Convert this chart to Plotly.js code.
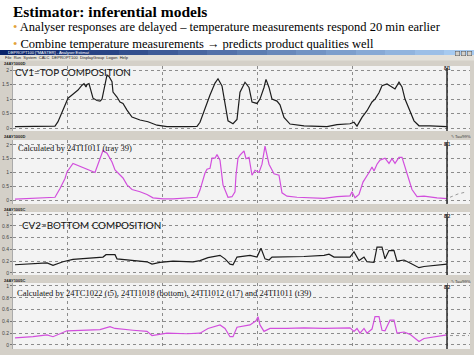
<!DOCTYPE html>
<html><head><meta charset="utf-8">
<script src="https://cdn.plot.ly/plotly-3.0.1.min.js"></script>
<style>html,body{margin:0;padding:0;background:#fff}#chart{width:474px;height:355px}</style>
</head><body><div id="chart"></div>
<script>
// ---- data (time in arbitrary trend units) ----
const t1 = [2,37,42,45,50,55,59,65,69,71,73,74,76,78,80,84,87,89,91,93,94,96,99,100,104,107,110,114,119,127,135,144,154,174,184,187,192,197,202,205,209,212,215,220,224,227,232,236,239,244,247,251,253,256,259,264,267,271,277,291,314,324,337,341,344,349,354,359,362,366,369,374,379,382,386,389,392,397,401,406,417,434];
const v1 = [0.05,0.05,0.07,0.22,0.62,1.03,1.14,1.31,1.48,1.53,1.42,1.5,1.53,1.31,1.03,0.95,0.93,1.0,1.38,1.72,1.83,1.78,1.6,1.24,1.07,0.9,0.85,0.62,0.38,0.28,0.22,0.1,0.05,0.05,0.06,0.2,0.69,1.14,1.55,1.7,1.45,0.8,0.25,0.15,0.3,1.24,1.58,1.4,0.9,0.85,1.0,1.4,1.68,1.4,1.0,0.93,0.8,0.37,0.14,0.08,0.05,0.12,0.15,0.2,0.07,0.37,0.6,0.9,1.0,1.22,1.46,1.52,1.42,1.35,1.58,1.42,1.0,0.55,0.25,0.08,0.08,0.05];

const t2 = [2,20,42,47,52,54,60,82,90,94,99,102,110,114,119,127,134,140,150,160,184,187,192,194,197,199,202,204,207,210,215,219,222,223,225,227,231,233,236,239,242,246,249,252,256,261,266,269,274,284,311,324,337,339,342,346,350,356,359,361,364,367,372,376,379,382,386,389,394,399,404,411,424,434];
const v2 = [0.03,0.05,0.1,0.42,0.78,1.02,1.33,1.0,1.8,1.7,1.38,1.09,0.8,0.55,0.38,0.3,0.2,0.08,0.04,0.04,0.1,0.36,0.98,1.12,1.15,1.52,1.52,1.65,1.45,0.55,0.1,0.12,0.3,0.9,1.52,1.63,1.78,1.5,1.55,0.9,1.08,1.0,1.3,1.96,1.3,0.95,0.9,0.26,0.14,0.1,0.06,0.12,0.15,0.3,0.08,0.2,0.65,1.0,1.2,1.05,1.3,1.45,1.52,1.33,1.5,1.33,1.55,1.55,0.95,0.38,0.12,0.14,0.08,0.05];
const t2ext = [437,445,454];
const v2ext = [0.1,0.22,0.3];

const t3 = [2,20,34,40,50,60,74,84,90,93,102,104,120,134,139,147,160,174,180,187,195,207,212,217,220,224,237,244,248,252,256,259,274,291,311,316,321,337,341,346,351,354,361,364,369,372,376,381,384,391,397,406,411,421,434];
const v3 = [0.14,0.15,0.17,0.13,0.19,0.23,0.25,0.27,0.27,0.31,0.31,0.24,0.21,0.19,0.15,0.18,0.2,0.2,0.19,0.21,0.26,0.3,0.24,0.15,0.14,0.27,0.3,0.27,0.42,0.24,0.22,0.27,0.27,0.28,0.3,0.32,0.27,0.27,0.36,0.21,0.27,0.19,0.18,0.44,0.44,0.24,0.38,0.38,0.2,0.22,0.17,0.09,0.11,0.13,0.15];

const t4 = [2,20,34,40,54,74,87,97,102,120,134,139,154,174,187,195,207,212,217,220,224,237,243,245,247,251,257,274,291,311,337,341,344,347,351,354,359,362,366,369,372,377,381,384,391,397,406,411,424,434];
const v4 = [0.12,0.14,0.17,0.14,0.24,0.25,0.26,0.31,0.28,0.25,0.23,0.16,0.2,0.19,0.2,0.28,0.34,0.28,0.14,0.14,0.3,0.34,0.41,0.48,0.34,0.23,0.28,0.28,0.29,0.28,0.29,0.23,0.28,0.2,0.28,0.2,0.27,0.48,0.48,0.25,0.24,0.42,0.42,0.2,0.22,0.18,0.06,0.11,0.14,0.17];
const t4ext = [437,446,456];
const v4ext = [0.16,0.16,0.16];

const cursorT = 434;
const tagNames = ['24AY1000D','24AY1000D','24AY1005C','24AY1005C'];
const cursorLabels = ['8.1','8.1','8.2','8.2'];
const panelTexts = ['CV1=TOP COMPOSITION','Calculated by 24TI1011 (tray 39)','CV2=BOTTOM COMPOSITION','Calculated by 24TC1022 (t5), 24TI1018 (bottom), 24TI1012 (t17) and 24TI1011 (t39)'];
const titleText = 'Estimator: inferential models';
const bullet1 = 'Analyser responses are delayed – temperature measurements respond 20 min earlier';
const bullet2 = 'Combine temperature measurements <b>→</b> predicts product qualities well';

// ---- layout helpers ----
const W = 474, H = 355;
const fx = px => px / W, fy = py => 1 - py / H;
const BLACK = '#1c1c1c', MAG = '#d24fdd';

function xa() {
  return {domain:[13/W, 470/W], range:[0,457], showticklabels:false, ticks:'',
    showgrid:true, gridcolor:'#8c8c8c', griddash:'dot', gridwidth:1, tick0:54, dtick:95,
    zeroline:false, showline:false, fixedrange:true};
}
function ya(pyTop, pyBot, r, dt) {
  return {domain:[1-pyBot/H, 1-pyTop/H], range:r, dtick:dt, tick0:0,
    showgrid:true, gridcolor:'#8c8c8c', griddash:'dot', gridwidth:1, zeroline:false,
    ticks:'outside', ticklen:2, tickcolor:'#777', tickwidth:1,
    tickfont:{size:5, color:'#444', family:'Liberation Sans'},
    showline:true, linecolor:'#aaa', linewidth:1, fixedrange:true};
}

const traces = [
  {x:t1, y:v1, xaxis:'x', yaxis:'y', mode:'lines', line:{color:BLACK, width:1.2}},
  {x:t2, y:v2, xaxis:'x2', yaxis:'y2', mode:'lines', line:{color:MAG, width:1.2}},
  {x:t2ext, y:v2ext, xaxis:'x2', yaxis:'y2', mode:'lines', line:{color:'#999', width:1, dash:'dot'}},
  {x:t3, y:v3, xaxis:'x3', yaxis:'y3', mode:'lines', line:{color:BLACK, width:1.2}},
  {x:t4, y:v4, xaxis:'x4', yaxis:'y4', mode:'lines', line:{color:MAG, width:1.2}},
  {x:t4ext, y:v4ext, xaxis:'x4', yaxis:'y4', mode:'lines', line:{color:'#999', width:1, dash:'dot'}}
];

const shapes = [];
// white slide area on top
shapes.push({type:'rect', xref:'paper', yref:'paper', x0:0, x1:1, y0:fy(55), y1:1, fillcolor:'#ffffff', line:{width:0}, layer:'below'});
// menu bar
shapes.push({type:'rect', xref:'paper', yref:'paper', x0:0, x1:1, y0:fy(60.5), y1:fy(55), fillcolor:'#e4e1da', line:{width:0}, layer:'below'});
// cursor lines
['','2','3','4'].forEach(s => shapes.push({type:'line', xref:'x'+s, yref:'y'+s+' domain', x0:cursorT, x1:cursorT, y0:0, y1:0.97, line:{color:'#2a2a2a', width:1.5}}));

const ann = [];
function A(text, px, py, size, opts) {
  ann.push(Object.assign({text:text, xref:'paper', yref:'paper', x:fx(px), y:fy(py), xanchor:'left', yanchor:'middle', showarrow:false,
    font:{family:'Liberation Serif', size:size, color:'#000'}}, opts||{}));
}
A('<b>'+titleText+'</b>', 11, 12, 15.5);
A('<span style="color:#e3a33a">•</span> '+bullet1, 11, 27, 12.5);
A('<span style="color:#e3a33a">•</span> '+bullet2, 11, 44, 12.5);
// window title bar drawn as boxes above the slide text (it hides the text's lower edge)
const c0 = [10,36,106], c1 = [166,202,240], nSeg = 16, segW = W/nSeg;
for (let i = 0; i < nSeg; i++) {
  const f = i/(nSeg-1);
  const c = c0.map((v,k)=>Math.round(v+(c1[k]-v)*f));
  ann.push({text:'&nbsp;', xref:'paper', yref:'paper', x:fx(i*segW), y:fy(50), xanchor:'left', yanchor:'top',
    width:Math.ceil(segW)+1, height:5, borderpad:0, borderwidth:0, bgcolor:`rgb(${c.join(',')})`, showarrow:false, font:{size:1}});
}
[455,461,467].forEach(px => ann.push({text:'&nbsp;', xref:'paper', yref:'paper', x:fx(px), y:fy(50.5), xanchor:'left', yanchor:'top',
  width:4, height:3.5, borderpad:0, borderwidth:0.5, bordercolor:'#555', bgcolor:'#d4d0c8', showarrow:false, font:{size:1}}));
A('DEPROPT100 [*MASTER] - Analyser Estimat', 6, 52.5, 4, {font:{family:'Liberation Sans', size:4, color:'#fff'}});
A('File  Run  System  CALC  DEPROPT100  DisplayGroup  Logon  Help', 3, 57.8, 4, {font:{family:'Liberation Sans', size:4, color:'#222'}});
// tag names
[64, 137, 209, 280].forEach((py,i) => A('<b>'+tagNames[i]+'</b>', 2, py, 4, {font:{family:'Liberation Sans', size:4, color:'#222'}}));
// cursor labels
[69, 144, 216, 287].forEach((py,i) => A('<b>'+cursorLabels[i]+'</b>', 447, py, 4.5, {xanchor:'center', font:{family:'Liberation Sans', size:4.5, color:'#222'}}));
// right-band labels
[137, 281].forEach(py => A('✎ Tau/99%', 449, py, 4, {font:{family:'Liberation Sans', size:4, color:'#333'}}));
// panel texts
A(panelTexts[0], 12.5, 72.5, 9.9, {font:{family:'Lato', size:9.9, color:'#111'}});
A(panelTexts[1], 16, 148, 8.5, {font:{family:'Liberation Serif', size:8.5, color:'#111'}});
A(panelTexts[2], 20, 224.5, 9.9, {font:{family:'Lato', size:9.9, color:'#111'}});
A(panelTexts[3], 14.5, 292.5, 8.5, {font:{family:'Liberation Serif', size:8.5, color:'#111'}});

const layout = {
  width:W, height:H, margin:{l:0,r:0,t:0,b:0}, showlegend:false,
  paper_bgcolor:'#d4d0c8', plot_bgcolor:'#f3f3f3',
  xaxis:xa(), xaxis2:xa(), xaxis3:xa(), xaxis4:xa(),
  yaxis: ya(66, 131, [-0.10, 2.14], 0.5),
  yaxis2:ya(140, 204, [-0.145, 2.18], 0.5),
  yaxis3:ya(212, 275, [-0.034, 1.034], 0.2),
  yaxis4:ya(283, 349, [-0.068, 1.05], 0.2),
  shapes:shapes, annotations:ann
};
layout.xaxis2.anchor='y2'; layout.xaxis3.anchor='y3'; layout.xaxis4.anchor='y4';
layout.yaxis.anchor='x'; layout.yaxis2.anchor='x2'; layout.yaxis3.anchor='x3'; layout.yaxis4.anchor='x4';

Plotly.newPlot('chart', traces, layout, {displayModeBar:false, staticPlot:true});
</script></body></html>
